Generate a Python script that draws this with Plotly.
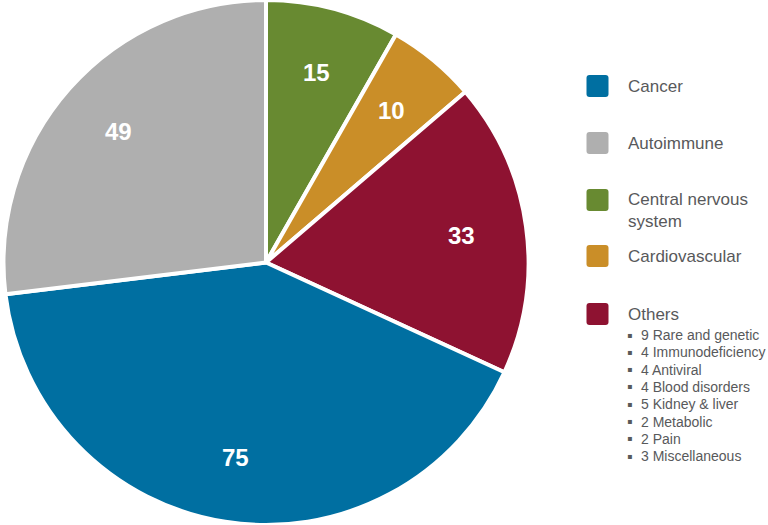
import math
import plotly.graph_objects as go

# ---- data ----
categories = ["Central nervous system", "Cardiovascular", "Others", "Cancer", "Autoimmune"]
values = [15, 10, 33, 75, 49]
colors = ["#688A31", "#CA8E28", "#8E1231", "#006FA1", "#AFAFAF"]

legend_order = ["Cancer", "Autoimmune", "Central nervous system", "Cardiovascular", "Others"]
legend_labels = ["Cancer", "Autoimmune", "Central nervous<br>system", "Cardiovascular", "Others"]

others_counts = [9, 4, 4, 4, 5, 2, 2, 3]
others_names = ["Rare and genetic", "Immunodeficiency", "Antiviral", "Blood disorders",
                "Kidney & liver", "Metabolic", "Pain", "Miscellaneous"]

W, H = 768, 525
FONT = "Liberation Sans, Arial, Helvetica, sans-serif"
TXT = "#58595B"

PIE_X1 = 532 / W
fig = go.Figure()
fig.add_trace(go.Pie(
    labels=categories,
    values=values,
    marker=dict(colors=colors, line=dict(color="white", width=4)),
    sort=False,
    direction="clockwise",
    rotation=0,
    textinfo="none",
    domain=dict(x=[0, PIE_X1], y=[0, 1]),
    showlegend=False,
    hoverinfo="label+value",
))

def px(x):
    return x / W

def py(y):
    return 1 - y / H

annotations = []
shapes = []

# value labels placed at each slice's mid-angle (derived from the data)
cx, cy = PIE_X1 * W / 2, H / 2
R = min(PIE_X1 * W, H) / 2
total = sum(values)
cum = 0
for v in values:
    mid = (cum + v / 2) / total * 2 * math.pi
    cum += v
    lx = cx + 0.75 * R * math.sin(mid)
    ly = cy - 0.75 * R * math.cos(mid)
    annotations.append(dict(x=px(lx), y=py(ly), xref="paper", yref="paper",
                            text=str(v), showarrow=False, xanchor="center", yanchor="middle",
                            font=dict(family=FONT, size=24, color="white", weight="bold")))

row_y = [86, 143, 200, 256, 314]
sq_x0, sq_x1 = 586.5, 608.5
half = 11
rad = 3
color_of = dict(zip(categories, colors))
for name, lab, yc in zip(legend_order, legend_labels, row_y):
    x0, x1, y0, y1 = sq_x0, sq_x1, yc - half, yc + half
    path = (f"M {px(x0 + rad)} {py(y0)} L {px(x1 - rad)} {py(y0)} "
            f"Q {px(x1)} {py(y0)} {px(x1)} {py(y0 + rad)} L {px(x1)} {py(y1 - rad)} "
            f"Q {px(x1)} {py(y1)} {px(x1 - rad)} {py(y1)} L {px(x0 + rad)} {py(y1)} "
            f"Q {px(x0)} {py(y1)} {px(x0)} {py(y1 - rad)} L {px(x0)} {py(y0 + rad)} "
            f"Q {px(x0)} {py(y0)} {px(x0 + rad)} {py(y0)} Z")
    shapes.append(dict(type="path", xref="paper", yref="paper", path=path,
                       fillcolor=color_of[name], line=dict(width=0)))
    n_lines = lab.count("<br>") + 1
    annotations.append(dict(x=px(626), y=py(yc + 10 * (n_lines - 1)), xref="paper", yref="paper",
                            text=lab, showarrow=False, xanchor="left", yanchor="middle",
                            align="left",
                            font=dict(family=FONT, size=17, color=TXT)))

sub_y0, sub_dy = 335, 17.3
for i, (c, n) in enumerate(zip(others_counts, others_names)):
    yc = sub_y0 + sub_dy * i
    annotations.append(dict(x=px(629), y=py(yc), xref="paper", yref="paper",
                            text="▪", showarrow=False, xanchor="center", yanchor="middle",
                            font=dict(family="DejaVu Sans", size=8, color=TXT)))
    annotations.append(dict(x=px(639), y=py(yc), xref="paper", yref="paper",
                            text=f"{c} {n}", showarrow=False, xanchor="left", yanchor="middle",
                            font=dict(family=FONT, size=14, color=TXT)))

fig.update_layout(
    width=W, height=H,
    margin=dict(l=0, r=0, t=0, b=0),
    paper_bgcolor="white", plot_bgcolor="white",
    shapes=shapes, annotations=annotations,
    showlegend=False,
)
fig.write_html("out.html")
